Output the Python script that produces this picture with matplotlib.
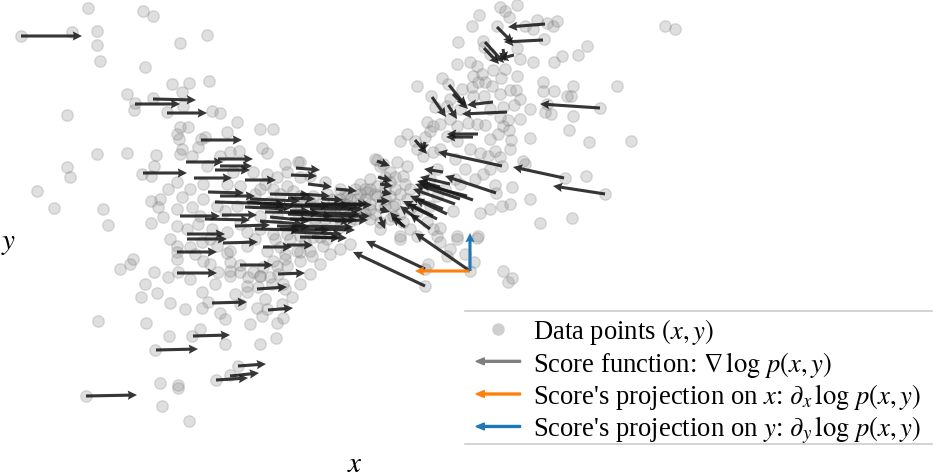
import matplotlib
matplotlib.use('Agg')
import matplotlib.pyplot as plt
import matplotlib.patches as mpatches
from matplotlib.legend_handler import HandlerPatch
from matplotlib.lines import Line2D
import numpy as np

plt.rcParams['font.family'] = ['Liberation Serif', 'DejaVu Serif']
plt.rcParams['mathtext.fontset'] = 'stix'

# ---------------- data (arbitrary units, y grows downward) -------------
A_x = [21,88,143,153,72,97,97,100,180,207,145,172,189,182,209,127,135,134,153,167,183,212,220,67,237,260,273,180,188,177,179,201,182,198,180,97,127,156,154,67,70,142,151,37,54,103,108,151,158,163,151,168,177,190,182,262,267,230,239,285,298,287]
A_y = [37,9,12,17,33,32,46,62,44,36,68,85,84,93,82,95,104,111,99,113,107,112,114,116,123,130,130,128,128,135,140,140,150,148,155,155,154,156,167,168,178,175,177,192,209,210,226,202,208,218,224,190,183,190,198,149,154,153,152,165,163,173]

B_x = [205,227,192,220,207,233,253,267,277,300,203,227,240,260,273,287,293,313,327,340,177,192,203,200,217,237,253,270,260,277,290,307,320,333,177,187,198,212,227,247,260,273,287,300,313,327,177,190,202,217,230,247,267,280,297,310,323,178,263,277,230,247,260]
B_y = [138,133,157,157,167,173,173,175,178,178,185,185,187,190,190,187,192,197,195,200,210,208,200,217,207,207,203,203,217,217,210,210,213,210,227,230,225,230,233,233,230,235,235,237,238,240,247,248,243,247,252,247,252,248,252,252,247,273,268,267,277,287,277]

C_x = [133,130,154,168,177,177,202,157,141,170,98,146,169,192,155,202,208,220,247,257,262,267,277,283,282,292,276,238,230,216,160,178,178,86,162,189,230,227,203,210,218,230,240,253,260,270,248,258,272,283,287,300,300,312,273,285,400,440,457,428,447,278,240]
C_y = [260,265,273,278,253,260,293,294,298,304,322,324,337,337,351,309,303,314,293,309,317,310,324,319,305,298,339,367,376,381,384,386,389,397,407,422,263,254,262,265,273,272,273,273,277,278,278,288,285,285,267,262,253,257,262,260,240,243,240,265,257,275,266]

D_x = [500,505,517,509,479,472,497,537,547,557,553,533,525,458,483,484,517,544,587,578,562,554,533,457,470,477,493,482,501,517,473,478,485,492,442,448,417,462,472,510,516,543,543,554,573,567,571,617,431,473,484,450,514,503,547,600,545,551,573,435,447,500,508,427,433,457,468,477,485,503,509,498,569,589,631,530,511,407,400,415,425,447,457,480,488,495,500,502,523,525,490,565,586,605,483,495,512,496,502,480,540,572,377,383,453,440,457,478,665,675,477,474,503,512,508,470,425,425]
D_y = [8,12,6,18,16,27,27,21,24,22,27,30,27,43,42,48,49,40,47,56,57,63,63,65,63,67,71,75,79,77,77,83,83,87,79,85,87,90,88,91,91,83,92,92,87,97,97,87,97,97,97,100,106,108,105,109,113,115,117,108,107,118,121,123,127,127,124,125,126,127,131,135,131,143,142,139,141,135,142,142,138,137,142,154,157,152,158,167,162,165,170,179,177,195,175,186,188,194,207,214,224,219,161,165,212,229,237,237,27,30,239,263,272,279,283,272,287,270]

E_x = [430,375,380,397,407,390,403,370,377,390,367,357,377,390,363,380,393,407,350,340,330,307,310,323,333,347,355,300,310,325,340,300,297,380,393,403,417,427,433,410,380,417,423,433,437,430,437,423,417,430,400,417,437,315,325,335,345,310,320,305,290,340,350]
E_y = [132,160,167,163,167,173,177,180,187,183,193,200,197,197,210,207,207,200,207,213,210,217,203,203,200,197,190,163,177,183,190,197,213,223,217,223,213,223,230,230,230,150,157,153,170,180,197,190,203,207,237,237,237,225,230,222,218,232,238,243,240,228,222]

E2_x = [345,355,365,360,350,370,385,375,365,355,345,335,325,370,385,395,360,385,395,405,410,400,410,400,390,370]
E2_y = [205,210,200,195,200,205,200,215,215,215,212,215,220,190,190,190,185,178,178,185,190,195,210,215,220,220]

F_x = [120,145,190,215,235,225,250,240,200,185,265,285,300,310,320,330,340,350,225,260,
       160,170,255,265,280,300,315,275,255,240,225,210,195,285,
       440,455,465,475,460,470,490,510,520,530,520,490,460,450,440,490,510,530,450,465,445,455,520,505,490,500,
       360,350,340,370,385,395,375,365,345,355]
F_y = [270,285,280,285,295,320,325,305,330,310,300,290,285,275,265,255,250,245,345,345,
       200,240,195,185,195,205,220,240,240,225,212,240,255,255,
       150,160,170,180,185,150,140,150,120,110,100,110,110,120,125,210,205,200,250,255,190,180,60,70,55,95,
       205,215,205,210,207,205,195,190,195,220]

# score arrows: start (x0, y0) -> end (x1, y1)
arr_x0 = [21,135,153,167,201,186,218,215,220,143,194,245,296,291,308,336,208,220,215,245,180,205,222,235,288,288,322,292,187,187,223,263,287,312,292,177,240,177,278,257,212,268,193,156,238,230,216,86,
          270,260,290,247,260,277,290,290,290,310,323,323,377,378,380,382,377,380,380,340,335,300,
          250,265,275,280,300,255,300,305,270,315,
          545,543,497,485,484,514,449,453,432,448,493,507,600,478,473,502,415,564,605,443,496,473,467,460,455,443,437,405,425,425,425,440,433,417,403,503,
          450,447,430]
arr_y0 = [37,105,100,114,141,163,160,171,167,174,179,181,169,176,185,190,193,197,203,208,217,220,216,227,199,215,200,227,235,240,244,248,246,238,233,253,266,274,275,290,304,311,337,351,367,377,381,397,
          218,222,212,203,207,227,207,213,220,210,217,205,162,178,185,193,202,210,218,205,222,195,
          200,213,205,230,238,230,220,205,195,230,
          25,41,28,43,49,56,86,95,98,106,103,113,109,135,138,167,141,179,195,173,194,201,197,200,205,210,220,228,270,287,143,188,217,220,227,50,
          185,215,230]
arr_x1 = [82,180,196,207,242,223,253,250,252,187,232,276,320,317,332,357,244,255,285,287,220,250,257,270,315,333,343,353,225,227,258,292,313,347,342,217,273,217,305,287,247,293,230,198,266,259,248,137,
          310,303,310,285,293,310,357,360,357,363,370,367,390,392,393,392,390,390,385,372,368,330,
          300,320,330,330,340,300,350,350,310,355,
          508,504,513,504,499,499,466,468,446,457,467,462,540,447,446,438,427,513,553,424,445,418,420,415,413,410,407,392,366,353,422,417,403,400,390,505,
          420,415,410]
arr_y1 = [37,105,101,114,141,163,160,171,167,174,179,181,171,177,188,192,194,197,205,210,217,221,216,226,200,217,201,228,235,240,243,248,246,239,235,253,266,274,274,288,303,309,336,350,365,374,379,396,
          222,225,212,206,208,228,208,215,221,210,217,205,167,182,187,195,202,213,230,206,221,197,
          202,214,207,231,239,231,222,206,196,231,
          28,43,44,64,65,60,107,110,118,120,106,115,105,135,138,153,155,168,187,170,177,182,185,185,190,197,205,218,242,253,153,182,202,207,213,62,
          178,200,215]

# highlighted score vector and its two projections
score_x, score_y = 470, 272
score_u, score_v = -55, -38

labels = [r'Data points $(x,y)$',
          r'Score function: $\nabla\,\log\,p(x,y)$',
          r"Score's projection on $x$: $\partial_x\,\log\,p(x,y)$",
          r"Score's projection on $y$: $\partial_y\,\log\,p(x,y)$"]

# ---------------- plotting ----------------
pts_x = np.array(A_x + B_x + C_x + D_x + E_x + E2_x + F_x, dtype=float)
pts_y = np.array(A_y + B_y + C_y + D_y + E_y + E2_y + F_y, dtype=float)
x0 = np.array(arr_x0, float); y0 = np.array(arr_y0, float)
u = np.array(arr_x1, float) - x0
v = np.array(arr_y1, float) - y0

fig = plt.figure(figsize=(9.35, 4.77), dpi=100)
ax = fig.add_axes([0, 0, 1, 1])
ax.set_xlim(0, 935)
ax.set_ylim(477, 0)
ax.axis('off')

sc = ax.scatter(pts_x, pts_y, s=68, c='gray', alpha=0.25, edgecolors='gray',
                linewidths=1.0, zorder=1)

qkw = dict(angles='xy', scale_units='xy', scale=1, width=0.0033,
           headwidth=3, headlength=3, headaxislength=2.7)
ax.quiver(x0, y0, u, v, color='#1a1a1a', alpha=0.88, zorder=3, **qkw)
ax.quiver([score_x], [score_y], [score_u], [score_v], color='#1a1a1a', alpha=0.88, zorder=3, **qkw)
ax.quiver([score_x], [score_y], [score_u], [0], color='#ff7f0e', zorder=4, **qkw)
ax.quiver([score_x], [score_y], [0], [score_v], color='#1f77b4', zorder=4, **qkw)

def make_arrow(legend, orig_handle, xdescent, ydescent, width, height, fontsize):
    return mpatches.FancyArrow(width - xdescent, 0.5 * height - ydescent, -width, 0,
                               width=1.4, head_width=5, head_length=6,
                               length_includes_head=True)

h_pts = Line2D([], [], marker='o', linestyle='none', markersize=8,
               markerfacecolor='#cfcfcf', markeredgecolor='#cfcfcf')
h_score = mpatches.FancyArrow(0, 0, 1, 0, color='#7f7f7f')
h_x = mpatches.FancyArrow(0, 0, 1, 0, color='#ff7f0e')
h_y = mpatches.FancyArrow(0, 0, 1, 0, color='#1f77b4')

leg = fig.legend([h_pts, h_score, h_x, h_y], labels, loc='upper left',
                 bbox_to_anchor=(476 / 935, 1 - 317 / 477), frameon=False,
                 fontsize=19.2, handlelength=1.67, handletextpad=0.45,
                 labelspacing=0.1, borderpad=0, borderaxespad=0,
                 handler_map={mpatches.FancyArrow: HandlerPatch(patch_func=make_arrow)})

for yy in (312, 445):
    fig.add_artist(Line2D([465 / 935, 932 / 935], [1 - yy / 477] * 2,
                          transform=fig.transFigure, color='#cccccc', lw=1.2))

fig.text(355 / 935, 1 - 465 / 477, '$x$', fontsize=21, ha='center', va='center')
fig.text(9 / 935, 1 - 244 / 477, '$y$', fontsize=21, ha='center', va='center')

fig.savefig('out.png', dpi=100)
